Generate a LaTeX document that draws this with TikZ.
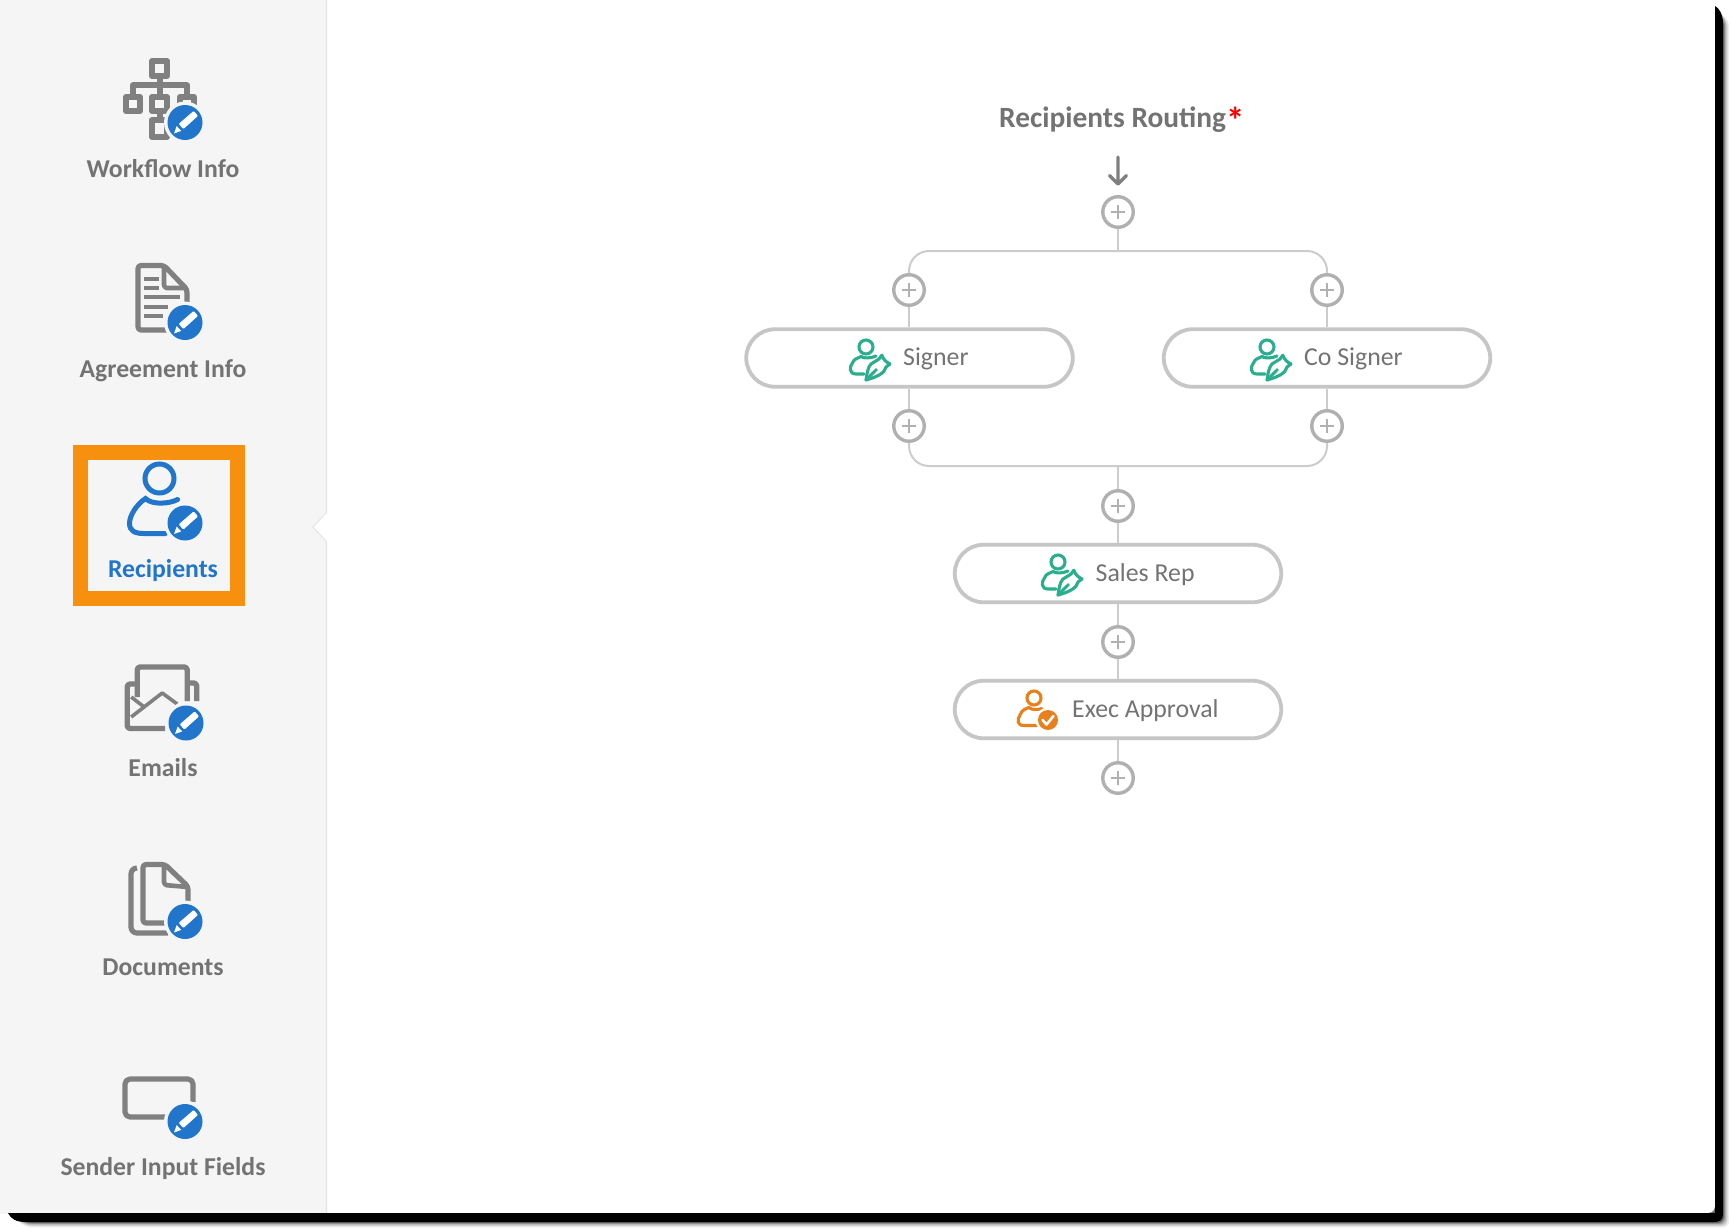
\documentclass[tikz,border=0pt]{standalone}
\usepackage{fontspec}
\usetikzlibrary{shapes.misc}
\setmainfont{Carlito}
\definecolor{sidebg}{HTML}{F5F5F5}
\definecolor{sideline}{HTML}{E4E4E4}
\definecolor{icongray}{HTML}{808080}
\definecolor{labelgray}{HTML}{737373}
\definecolor{badgeblue}{HTML}{2175CB}
\definecolor{boxorange}{HTML}{F7900E}
\definecolor{pillgray}{HTML}{C6C6C6}
\definecolor{plusgray}{HTML}{B0B0B0}
\definecolor{conngray}{HTML}{CCCCCC}
\definecolor{teal}{HTML}{2BAE8E}
\definecolor{approve}{HTML}{E8801E}
\tikzset{
  x=1pt,y=-1pt,
  sidelabel/.style={anchor=base,inner sep=0pt,text=labelgray,font=\bfseries\fontsize{25.7}{28}\selectfont},
  pilltext/.style={anchor=base west,inner sep=0pt,text=labelgray,font=\fontsize{25.8}{28}\selectfont},
  pill/.style={draw=pillgray,line width=3.8pt,fill=white,rounded rectangle,minimum width=326.5pt,minimum height=57.5pt,inner sep=0pt},
  addbtn/.style={circle,draw=plusgray,line width=3.4pt,fill=white,minimum size=30.5pt,inner sep=0pt,
    path picture={\draw[plusgray,line width=2.6pt] ([xshift=-7pt]path picture bounding box.center) -- ([xshift=7pt]path picture bounding box.center)
      ([yshift=-7pt]path picture bounding box.center) -- ([yshift=7pt]path picture bounding box.center);}},
  conn/.style={draw=conngray,line width=2pt},
  ico/.style={draw=icongray,line width=5.2pt,line join=round,rounded corners=3pt},
  badge/.pic={
    \fill[sidebg] (0,0) circle (21);
    \fill[badgeblue] (0,0) circle (17.5);
    \fill[white,rounded corners=1pt] (-6.3,1.4) -- (8.7,-11.6) -- (13,-6.6) -- (-1.7,6.6) -- cycle;
    \fill[white] (-11,11) -- (-8.3,3.6) -- (-3.8,8.4) -- cycle;
  },
  signerico/.pic={
    \begin{scope}[draw=teal,line width=3.1pt,line cap=round,line join=round]
    \draw (0,0) circle (7);
    \draw (10,9) .. controls (5,11.5) and (-3,11.5) .. (-5,9.5) .. controls (-8,11) and (-12,12) .. (-13,15) .. controls (-17,20) and (-17,27) .. (-10,27) -- (-2,27);
    \draw (0,33) .. controls (1,26) and (2,20) .. (5,17) -- (13,12) -- (16,8);
    \draw (16,9) .. controls (18,13) and (20,15) .. (24,17);
    \draw (24,17) -- (20,20) .. controls (19,26) and (11,30) .. (0,33);
    \draw (0,33) -- (9,24);
    \end{scope}
    \fill[teal] (10,23) circle (1.8);
  },
  approveico/.pic={
    \begin{scope}[draw=approve,line width=3.1pt,line cap=round,line join=round]
    \draw (0,0) circle (7);
    \draw (8,10.5) .. controls (4,12) and (-3,12) .. (-5,9.5) .. controls (-9,11) and (-12,12) .. (-14,17) .. controls (-17,22) and (-17,27.5) .. (-10,27.5) -- (3,27.5);
    \end{scope}
    \fill[white] (14,22) circle (12.5);
    \fill[approve] (14,22) circle (10);
    \draw[white,line width=2.6pt,line cap=round,line join=round] (8.5,22) -- (12.5,26.5) -- (19.5,18);
  }
}
\begin{document}
\begin{tikzpicture}
\useasboundingbox (0,0) rectangle (1731,1228);
\fill[white] (0,0) rectangle (1731,1228);
% sidebar
\fill[sidebg] (0,0) rectangle (326,1214);
\draw[sideline,line width=1.2pt] (326.5,0) -- (326.5,513) -- (313,527) -- (326.5,541) -- (326.5,1214);
\fill[white] (327,513) -- (313.8,527) -- (327,541) -- cycle;
% page shadow
\foreach \o/\c in {6/6,5/12,4/20,3/30,2/44,1/60}{
  \fill[black!\c,rounded corners=6pt] (8,1213) -- (1715,1213) -- (1715,10) -- (1723+\o,20) -- (1723+\o,1222+\o*0.9) -- (26,1222+\o*0.9) -- cycle;
}
\fill[black] (1715,6) .. controls (1719,8) and (1723,14) .. (1723,24) -- (1723,1214) .. controls (1723,1220) and (1720,1222) .. (1714,1222) -- (26,1222) .. controls (16,1222) and (11,1219) .. (8,1213) -- (1715,1213) -- cycle;
% orange highlight
\draw[boxorange,line width=15pt] (80.5,452.5) rectangle (237.5,598.5);
% icons: workflow
\begin{scope}[ico,rounded corners=0pt,line width=6pt]
\draw (152,61) rectangle (167,76);
\draw (126,97) rectangle (140,111);
\draw (152,97) rectangle (167,111);
\draw (180,97) rectangle (194,111);
\draw (152,120) rectangle (167,137);
\draw (159.5,76) -- (159.5,97);
\draw (159.5,111) -- (159.5,120);
\draw (133,97) -- (133,85.5) -- (187,85.5) -- (187,97);
\end{scope}
% icons: agreement
\draw[ico] (187,304) -- (187,289.5) -- (164,265.5) -- (138,265.5) -- (138,330) -- (168,330);
\draw[ico,line width=4.6pt] (164,265.5) -- (164,288) -- (187,288);
\draw[icongray,line width=3.4pt] (144,279) -- (159,279) (144,288) -- (159,288) (144,297) -- (180,297) (144,307) -- (168,307) (144,316) -- (163,316);
% icons: recipients
\begin{scope}[draw=badgeblue,line width=5pt,line cap=round,shift={(0.5,1.5)}]
\draw (159,477) circle (14.5);
\draw (177,498) .. controls (170,502) and (152,504) .. (145,497) .. controls (136,503) and (129,514) .. (129,522) .. controls (129,529) and (134,532) .. (143,532) -- (165,532);
\end{scope}
% icons: emails
\begin{scope}[shift={(1.2,1)}]
\draw[ico,line width=5.4pt] (136,696) -- (136,666) -- (186,666) -- (186,700);
\draw[ico,line width=5.4pt] (136,683) -- (126,683) -- (126,727.5) -- (164,727.5);
\draw[ico,line width=5.4pt] (186,682) -- (195.5,682) -- (195.5,700);
\draw[icongray,line width=3.6pt,line join=round] (130,716) -- (161,692) -- (176,703);
\draw[icongray,line width=3.6pt] (130,696) -- (143,706);
\end{scope}
% icons: documents
\draw[ico] (188,902) -- (188,886.5) -- (165,864.5) -- (143,864.5) -- (143,923) -- (170,923);
\draw[ico,line width=4.6pt] (164,864.5) -- (164,885) -- (188,887);
\draw[ico,rounded corners=6pt] (137,868) -- (131,868) -- (131,933) -- (168,933);
% icons: sender input
\draw[ico,rounded corners=5pt] (193,1102) -- (193,1079) -- (125,1079) -- (125,1117) -- (168,1117);
% badges
\foreach \bx/\by in {185/122.5,185/322.5,185/523,186/723,185/921.5,185/1121.5}{
  \pic at (\bx,\by) {badge};
}
% sidebar labels
\node[sidelabel] (lwork) at (163,177.5) {Workflow Info};
\node[sidelabel] (lagree) at (163,377) {Agreement Info};
\node[sidelabel,text=badgeblue] (lrec) at (163,577) {Recipients};
\node[sidelabel] (lmail) at (163,776) {Emails};
\node[sidelabel] (ldoc) at (163,975.5) {Documents};
\node[sidelabel] (lsend) at (163,1175.5) {Sender Input Fields};
% title
\node[anchor=base west,inner sep=0pt,text=labelgray,font=\bfseries\fontsize{29.4}{32}\selectfont] (title) at (999,128) {Recipients Routing\textcolor{red}{\raisebox{-6pt}{\fontsize{37}{32}\selectfont *}}};
% routing nodes
\coordinate (arrowtop) at (1118,157);
\node[addbtn] (a0) at (1118,212) {};
\node[addbtn] (a1) at (909,290) {};
\node[addbtn] (a2) at (1327,290) {};
\node[pill] (signer) at (909.5,358) {};
\node[pill] (cosigner) at (1327,358) {};
\node[addbtn] (a3) at (909,426) {};
\node[addbtn] (a4) at (1327,426) {};
\node[addbtn] (a5) at (1118,506) {};
\node[pill] (sales) at (1118,573.5) {};
\node[addbtn] (a6) at (1118,642) {};
\node[pill] (exec) at (1118,709.5) {};
\node[addbtn] (a7) at (1118,778) {};
\coordinate (topjoin) at (1118,251);
\coordinate (botjoin) at (1118,466);
% connectors
\draw[icongray,line width=3.4pt,line cap=round,line join=round] (arrowtop) -- (1118,184) (1109.5,175.5) -- (1118,184) -- (1126.5,175.5);
\draw[conn] (a0) -- (topjoin);
\draw[conn,rounded corners=20pt] (a1.north) -- (a1.north |- topjoin) -- (a2.north |- topjoin) -- (a2.north);
\draw[conn] (a1) -- (a1 |- signer.north);
\draw[conn] (a2) -- (cosigner);
\draw[conn] (a1 |- signer.south) -- (a3);
\draw[conn] (cosigner) -- (a4);
\draw[conn,rounded corners=20pt] (a3.south) -- (a3.south |- botjoin) -- (a4.south |- botjoin) -- (a4.south);
\draw[conn] (botjoin) -- (a5);
\draw[conn] (a5) -- (sales);
\draw[conn] (sales) -- (a6);
\draw[conn] (a6) -- (exec);
\draw[conn] (exec) -- (a7);
% pill contents
\pic at (866,347) {signerico};
\pic at (1267,347) {signerico};
\pic at (1058,562) {signerico};
\pic at (1034,698) {approveico};
\node[pilltext] (tsigner) at (903,365) {Signer};
\node[pilltext] (tco) at (1304,365) {Co Signer};
\node[pilltext] (tsales) at (1095.5,581) {Sales Rep};
\node[pilltext] (texec) at (1072,717) {Exec Approval};
\end{tikzpicture}
\end{document}
